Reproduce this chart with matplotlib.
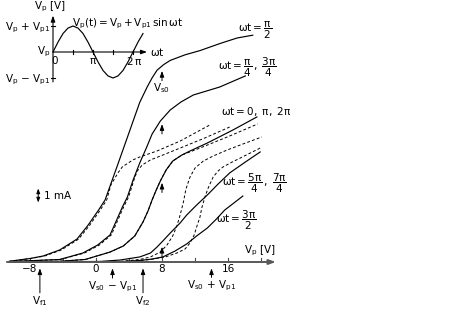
import matplotlib.pyplot as plt
import numpy as np

plt.rcParams['font.family'] = ['DejaVu Sans']
plt.rcParams['mathtext.fontset'] = 'dejavusans'
plt.rcParams['mathtext.default'] = 'regular'

# probe characteristics: probe voltage [V], current [mA]
# solid = measured at the given phase, dashed = companion curves
v_half = [-10.5, -8.0, -6.4, -4.4, -2.3, -1.0, 0.3, 1.1, 2.6, 4.1, 5.3, 6.2, 6.8, 7.4, 8.2, 9.0, 10.8, 12.6, 15.0, 17.1, 19.0]
i_half = [0.05, 0.25, 0.43, 0.86, 1.64, 2.6, 3.7, 4.43, 6.9, 9.4, 11.4, 12.5, 13.15, 13.7, 14.1, 14.4, 14.8, 15.1, 15.6, 16.0, 16.2]

v_half_d = [-10.5, -7.9, -6.2, -4.2, -2.1, -0.8, 0.5, 1.3, 1.8, 2.7, 3.2, 3.9, 4.5, 5.3, 7.4, 10.2, 13.8]
i_half_d = [0.05, 0.25, 0.43, 0.86, 1.64, 2.6, 3.7, 4.43, 5.5, 6.4, 6.8, 7.07, 7.3, 7.5, 7.93, 8.64, 9.79]

v_quar = [-10.5, -4.4, -1.6, 0.2, 1.7, 2.4, 3.2, 3.8, 4.5, 5.3, 6.1, 6.8, 7.8, 9.0, 10.3, 11.8, 15.0, 18.1]
i_quar = [0.03, 0.18, 0.64, 1.21, 1.93, 2.86, 3.93, 4.64, 5.86, 7.07, 8.14, 9.14, 10.07, 10.86, 11.43, 11.93, 12.5, 13.29]

v_quar_d = [-10.5, -4.3, -1.4, 0.4, 1.85, 2.55, 3.35, 3.95, 4.6, 5.0, 5.6, 6.6, 7.8, 10.2, 13.2, 16.2]
i_quar_d = [0.03, 0.18, 0.64, 1.21, 1.93, 2.86, 3.93, 4.64, 5.86, 6.5, 6.93, 7.29, 7.57, 8.14, 8.86, 9.64]

v_zero = [-10.5, -4.4, -1.3, 0.1, 1.7, 3.3, 4.7, 5.7, 6.3, 6.8, 7.3, 7.8, 8.5, 9.3, 10.4, 11.4, 13.5, 16.6, 19.5]
i_zero = [0.02, 0.05, 0.18, 0.43, 0.71, 1.14, 1.86, 2.86, 3.64, 4.43, 5.14, 5.79, 6.57, 7.21, 7.64, 7.93, 8.5, 9.43, 10.36]

v_zero_d = [-10.5, -4.4, -1.3, 0.1, 1.7, 3.3, 4.7, 5.7, 6.3, 6.8, 7.3, 7.8, 8.5, 9.3, 10.4, 12.6, 16.2, 19.6]
i_zero_d = [0.02, 0.05, 0.18, 0.43, 0.71, 1.14, 1.86, 2.86, 3.64, 4.43, 5.14, 5.79, 6.57, 7.21, 7.64, 8.14, 9.0, 9.86]

v_five = [-10.5, 0.5, 2.9, 5.3, 6.6, 7.4, 8.1, 9.0, 10.2, 11.0, 12.2, 13.5, 14.8, 16.2, 18.1, 19.9]
i_five = [0.0, 0.04, 0.14, 0.36, 0.64, 1.07, 1.5, 2.07, 2.79, 3.36, 4.07, 4.79, 5.57, 6.36, 7.14, 7.86]

v_three = [-10.5, 2.9, 5.3, 6.8, 8.1, 9.6, 11.0, 12.2, 13.5, 14.6, 15.6, 16.7, 17.8]
i_three = [0.0, 0.02, 0.11, 0.21, 0.36, 0.79, 1.29, 1.86, 2.43, 3.07, 3.71, 4.21, 4.71]

v_d4 = [-10.5, 2.9, 5.3, 6.6, 7.8, 8.6, 9.3, 9.8, 10.2, 10.6, 10.9, 11.4, 12.0, 13.0, 14.2, 15.9, 17.5, 20.1]
i_d4 = [0.0, 0.04, 0.18, 0.36, 0.71, 1.21, 1.86, 2.57, 3.36, 4.29, 5.21, 6.07, 6.71, 7.21, 7.57, 8.0, 8.36, 8.93]

v_d5 = [-10.5, 4.1, 6.6, 8.4, 9.8, 10.8, 11.4, 11.9, 12.2, 12.6, 12.85, 13.2, 13.6, 14.2, 14.8, 15.4, 16.5, 17.5, 19.9]
i_d5 = [0.0, 0.04, 0.18, 0.36, 0.64, 0.93, 1.36, 1.93, 2.5, 3.21, 3.93, 4.64, 5.29, 6.07, 6.5, 6.79, 7.14, 7.43, 8.14]

# x axis
tick_pos = [-8, -4, 0, 4, 8, 12, 16, 20]
tick_lab_pos = [-8, 0, 8, 16]
tick_lab = ['\u22128', '0', '8', '16']

# special voltages marked under the axis
v_f1 = -6.8
v_f2 = 5.7
v_s0 = 8.0
v_p1 = 6.0

# inset: Vp(t) = Vp + Vp1 sin(wt), wt in units of pi
wt = [0, 0.125, 0.25, 0.375, 0.5, 0.625, 0.75, 0.875, 1.0, 1.125, 1.25, 1.375, 1.5,
      1.625, 1.75, 1.875, 2.0, 2.125, 2.25]
vp_t = [0, 0.38, 0.71, 0.92, 1.0, 0.92, 0.71, 0.38, 0, -0.38, -0.71, -0.92, -1.0,
        -0.92, -0.71, -0.38, 0, 0.38, 0.71]

fs = 7.5
head = '-|>,head_length=0.5,head_width=0.18'

fig = plt.figure(figsize=(4.74, 3.12), dpi=100)
ax = fig.add_axes([0, 0, 1, 1])
ax.set_xlim(-96 / 8.25, 378 / 8.25)
ax.set_ylim(-50 / 14, 262 / 14)
ax.axis('off')

solid = dict(color='k', lw=0.85, solid_joinstyle='round')
dashed = dict(color='k', lw=0.7, ls=(0, (3, 2.2)))

# axis with arrow (drawn first so the curves sit on it)
ax.annotate('', xy=(21.8, 0), xytext=(-10.8, 0),
            arrowprops=dict(arrowstyle=head, lw=1.4, color='0.35',
                            mutation_scale=8, shrinkA=0, shrinkB=0))
for t in tick_pos:
    ax.plot([t, t], [0, 0.32], color='0.3', lw=0.8)
for t, s in zip(tick_lab_pos, tick_lab):
    ax.text(t, -0.12, s, ha='center', va='top', fontsize=fs)
ax.text(19.9, 0.8, 'V$_p$ [V]', ha='center', va='center', fontsize=fs)

ax.plot(v_half, i_half, **solid)
ax.plot(v_quar, i_quar, **solid)
ax.plot(v_zero, i_zero, **solid)
ax.plot(v_five, i_five, **solid)
ax.plot(v_three, i_three, **solid)
ax.plot(v_half_d, i_half_d, **dashed)
ax.plot(v_quar_d, i_quar_d, **dashed)
ax.plot(v_zero_d, i_zero_d, **dashed)
ax.plot(v_d4, i_d4, **dashed)
ax.plot(v_d5, i_d5, **dashed)

# small up arrows just under the curves at V = Vs0
for v, i in [(v_half, i_half), (v_quar, i_quar), (v_zero, i_zero), (v_five, i_five)]:
    tip = np.interp(v_s0, v, i) - 0.35
    ax.annotate('', xy=(v_s0, tip), xytext=(v_s0, tip - 0.7),
                arrowprops=dict(arrowstyle=head, lw=0.7, color='k',
                                mutation_scale=7, shrinkA=0, shrinkB=0))
ax.text(v_s0, np.interp(v_s0, v_half, i_half) - 1.6, 'V$_{s0}$', ha='center', va='center', fontsize=fs)

# arrows under the axis
marks = [(v_f1, -2.2, 'V$_{f1}$'), (v_s0 - v_p1, -1.15, 'V$_{s0}$ \u2212 V$_{p1}$'),
         (v_f2, -2.2, 'V$_{f2}$'), (v_s0 + v_p1, -1.1, 'V$_{s0}$ + V$_{p1}$')]
for v, low, s in marks:
    ax.annotate('', xy=(v, -0.45), xytext=(v, low),
                arrowprops=dict(arrowstyle=head, lw=0.7, color='k',
                                mutation_scale=7, shrinkA=0, shrinkB=0))
    ax.text(v, low - 0.12, s, ha='center', va='top', fontsize=fs)

# 1 mA scale bar
ax.annotate('', xy=(-7.0, 5.25), xytext=(-7.0, 4.25),
            arrowprops=dict(arrowstyle='<|-|>,head_length=0.4,head_width=0.15', lw=0.7, color='k',
                            mutation_scale=7, shrinkA=0, shrinkB=0))
ax.text(-6.3, 4.75, '1 mA', ha='left', va='center', fontsize=fs)

# phase labels
ax.text(19.3, 16.55, r'$\omega t=\dfrac{\pi}{2}$', ha='center', va='center', fontsize=fs)
ax.text(18.4, 13.9, r'$\omega t=\dfrac{\pi}{4}\,,\ \dfrac{3\pi}{4}$', ha='center', va='center', fontsize=fs)
ax.text(19.4, 10.75, r'$\omega t=0,\ \pi,\ 2\pi$', ha='center', va='center', fontsize=fs)
ax.text(19.2, 5.65, r'$\omega t=\dfrac{5\pi}{4}\,,\ \dfrac{7\pi}{4}$', ha='center', va='center', fontsize=fs)
ax.text(17.0, 3.0, r'$\omega t=\dfrac{3\pi}{2}$', ha='center', va='center', fontsize=fs)

# inset with the applied voltage
ax2 = fig.add_axes([0, 0, 1, 1])
ax2.set_xlim(-53 / 40, 421 / 40)
ax2.set_ylim(-10, 2)
ax2.axis('off')

ax2.plot(wt, vp_t, color='k', lw=0.85)
ax2.annotate('', xy=(2.35, 0), xytext=(0, 0),
             arrowprops=dict(arrowstyle=head, lw=0.8, color='k',
                             mutation_scale=7, shrinkA=0, shrinkB=0))
ax2.annotate('', xy=(0, 1.4), xytext=(0, -1.15),
             arrowprops=dict(arrowstyle=head, lw=0.8, color='k',
                             mutation_scale=7, shrinkA=0, shrinkB=0))
for t in [0.5, 1.0, 1.5, 2.0]:
    ax2.plot([t, t], [-0.08, 0.08], color='k', lw=0.8)
for y in [1.0, -1.0]:
    ax2.plot([-0.06, 0.06], [y, y], color='k', lw=0.8)

ax2.text(-0.075, 1.73, 'V$_p$ [V]', ha='center', va='center', fontsize=fs)
ax2.text(-0.06, 0.92, 'V$_p$ + V$_{p1}$', ha='right', va='center', fontsize=fs)
ax2.text(-0.06, 0.0, 'V$_p$', ha='right', va='center', fontsize=fs)
ax2.text(0.03, -0.36, '0', ha='center', va='center', fontsize=fs)
ax2.text(-0.06, -1.08, 'V$_p$ \u2212 V$_{p1}$', ha='right', va='center', fontsize=fs)
ax2.text(1.0, -0.36, r'$\pi$', ha='center', va='center', fontsize=fs)
ax2.text(2.03, -0.36, r'$2\,\pi$', ha='center', va='center', fontsize=fs)
ax2.text(2.42, 0.0, r'$\omega t$', ha='left', va='center', fontsize=fs)
ax2.text(1.88, 1.08, r'$V_p(t)=V_p+V_{p1}\,\sin\omega t$', ha='center', va='center', fontsize=fs)

fig.savefig('out.png', dpi=100)
